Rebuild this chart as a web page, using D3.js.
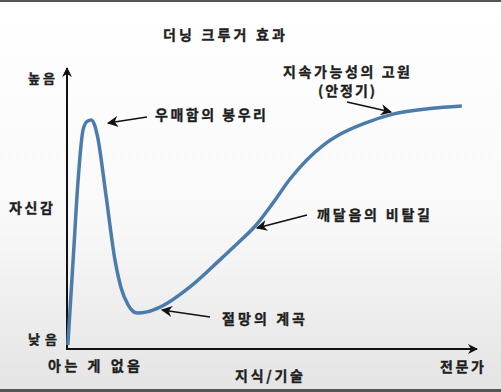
<!DOCTYPE html>
<html>
<head>
<meta charset="utf-8">
<script src="https://cdn.jsdelivr.net/npm/d3@7.9.0/dist/d3.min.js"></script>
<style>
  html, body { margin: 0; padding: 0; background: #fff; }
  svg { display: block; }
  text { font-family: "Noto Sans CJK KR", "Noto Sans", sans-serif; fill: #1e1e1e; stroke: #1e1e1e; stroke-width: 0.35; font-weight: 700; }
</style>
</head>
<body>
<div id="chart"></div>
<script>
// knowledge (0-100) vs confidence (0-100)
const knowledge = [0.2, 1.5, 2.7, 3.9, 4.9, 5.9, 6.8, 7.4, 9.5, 11.7, 13.2, 14.9, 17.1, 19.5, 22.7, 30, 38, 42.2, 46.3, 50.2, 54.4, 62.4, 66.6, 72.7, 79.5, 88.5, 96.3];
const confidence = [1.4, 31.7, 60, 77.9, 81, 81.5, 79.4, 76, 54.8, 31.7, 21.7, 15.7, 12.8, 13.2, 14.9, 22.1, 32.7, 38.4, 44.4, 51.9, 60.5, 72.4, 76.4, 80.4, 83.6, 85.6, 86.5];

const title = '더닝 크루거 효과';
const yLabels = { high: '높음', mid: '자신감', low: '낮음' };
const xLabels = { low: '아는 게 없음', mid: '지식/기술', high: '전문가' };
const stages = ['우매함의 봉우리', '절망의 계곡', '깨달음의 비탈길', '지속가능성의 고원', '(안정기)'];

const width = 501, height = 392;
const x = d3.scaleLinear().domain([0, 100]).range([67, 477]);
const y = d3.scaleLinear().domain([0, 100]).range([349, 68]);

const svg = d3.select('#chart').append('svg')
  .attr('width', width).attr('height', height);

const defs = svg.append('defs');
const grad = defs.append('linearGradient').attr('id', 'bg')
  .attr('x1', 0).attr('y1', 0).attr('x2', 0).attr('y2', 1);
grad.append('stop').attr('offset', '0%').attr('stop-color', '#ffffff');
grad.append('stop').attr('offset', '55%').attr('stop-color', '#f9f9f9');
grad.append('stop').attr('offset', '100%').attr('stop-color', '#e4e4e4');

defs.append('marker').attr('id', 'axisHead')
  .attr('viewBox', '0 0 10 10').attr('refX', 9).attr('refY', 5)
  .attr('markerWidth', 5).attr('markerHeight', 5).attr('orient', 'auto')
  .append('path').attr('d', 'M0,0 L10,5 L0,10 L3,5 Z').attr('fill', '#111');

defs.append('marker').attr('id', 'noteHead')
  .attr('viewBox', '0 0 10 10').attr('refX', 9).attr('refY', 5)
  .attr('markerWidth', 7).attr('markerHeight', 7).attr('orient', 'auto')
  .append('path').attr('d', 'M0,0 L10,5 L0,10 L3,5 Z').attr('fill', '#111');

// background + frame bands
svg.append('rect').attr('width', width).attr('height', height).attr('fill', 'url(#bg)');
svg.append('rect').attr('width', width).attr('height', 2).attr('fill', '#555');
svg.append('rect').attr('y', height - 3).attr('width', width).attr('height', 3).attr('fill', '#555');

// axes
svg.append('line')
  .attr('x1', x(0)).attr('y1', y(0) + 1).attr('x2', x(0)).attr('y2', y(100))
  .attr('stroke', '#111').attr('stroke-width', 2).attr('marker-end', 'url(#axisHead)');
svg.append('line')
  .attr('x1', x(0) - 1).attr('y1', y(0)).attr('x2', x(100)).attr('y2', y(0))
  .attr('stroke', '#111').attr('stroke-width', 2).attr('marker-end', 'url(#axisHead)');

// curve
const pts = knowledge.map((k, i) => [k, confidence[i]]);
const line = d3.line().x(d => x(d[0])).y(d => y(d[1])).curve(d3.curveMonotoneX);
svg.append('path').datum(pts)
  .attr('d', line)
  .attr('fill', 'none')
  .attr('stroke', '#4c7cab')
  .attr('stroke-width', 3.5)
  .attr('stroke-linecap', 'butt');

// texts
function label(txt, px, py, size, len, anchor) {
  const t = svg.append('text')
    .attr('x', px).attr('y', py)
    .attr('font-size', size)
    .attr('text-anchor', anchor || 'start')
    .text(txt);
  if (len) t.attr('textLength', len).attr('lengthAdjust', 'spacing');
  return t;
}

label(title, 163, 40, 14, 122);
label(yLabels.high, 28, 83, 13, 27);
label(yLabels.mid, 9, 213, 14, 44);
label(yLabels.low, 28, 344, 13, 29);
label(xLabels.low, 48, 371, 14, 92);
label(xLabels.mid, 235, 381, 14, 68);
label(xLabels.high, 440, 372, 14, 44);

label(stages[0], 155, 120, 14, 111);
label(stages[1], 222, 324, 14, 83);
label(stages[2], 317, 220, 14, 113);
label(stages[3], 283, 77, 14, 127);
label(stages[4], 318, 96, 14, 57);

// annotation arrows
const arrows = [
  [[147, 117], [108, 123]],
  [[210, 317], [162, 310]],
  [[307, 215], [257, 228]],
  [[347, 102], [391, 112]]
];
svg.selectAll('line.note').data(arrows).join('line')
  .attr('class', 'note')
  .attr('x1', d => d[0][0]).attr('y1', d => d[0][1])
  .attr('x2', d => d[1][0]).attr('y2', d => d[1][1])
  .attr('stroke', '#111').attr('stroke-width', 1.6)
  .attr('marker-end', 'url(#noteHead)');
</script>
</body>
</html>
